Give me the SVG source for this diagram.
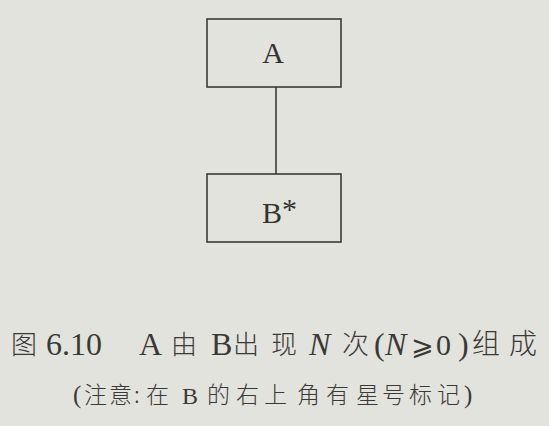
<svg xmlns="http://www.w3.org/2000/svg" width="549" height="426" viewBox="0 0 549 426">
<style>
.box{fill:none;stroke:#3b3a38;stroke-width:1.6}
.lbl{font-family:"Liberation Serif","Noto Sans CJK SC",serif;font-size:30px;fill:#343332}
.cap{font-family:"Liberation Serif","Noto Sans CJK SC",serif;fill:#3a3937}
.cjk{font-family:"Noto Sans CJK SC",sans-serif;font-weight:300}
</style>
<rect width="549" height="426" fill="#e3e3dd"/>
<g id="connectors"><line x1="276" y1="87" x2="276" y2="174" stroke="#3b3a38" stroke-width="1.6"/></g>
<g id="nodeA"><rect class="box" x="207" y="19" width="134" height="68"/><text class="lbl" x="273" y="63" text-anchor="middle">A</text></g>
<g id="nodeB"><rect class="box" x="207" y="174" width="134" height="68"/><text class="lbl" x="262" y="223" font-size="29">B</text><text class="lbl" x="282" y="219" font-size="22">*</text></g>
<g id="caption" class="cap" font-size="32">
<text x="11" y="354" class="cjk" font-size="26">图</text>
<text x="46" y="355">6.10</text>
<text x="139" y="355">A</text>
<text x="171" y="354" class="cjk" font-size="26">由</text>
<text x="211" y="355">B</text>
<text x="233" y="354" class="cjk" font-size="26">出</text>
<text x="271" y="354" class="cjk" font-size="26">现</text>
<text x="309" y="355" font-style="italic">N</text>
<text x="342" y="354" class="cjk" font-size="27">次</text>
<text x="374" y="355">(</text>
<text x="385" y="355" font-style="italic">N</text>
<text x="411" y="355" font-family="DejaVu Sans,sans-serif" font-size="27">⩾</text>
<text x="436" y="355" font-size="30">0</text>
<text x="458" y="355">)</text>
<text x="472" y="354" class="cjk" font-size="28">组</text>
<text x="509" y="354" class="cjk" font-size="28">成</text>
</g>
<g id="note" class="cap" font-size="23">
<text x="73" y="403" font-size="25">(</text>
<text x="84" y="403" class="cjk">注</text>
<text x="109" y="403" class="cjk">意</text>
<text x="134" y="403" class="cjk">:</text>
<text x="146" y="403" class="cjk">在</text>
<text x="182" y="404" font-size="24">B</text>
<text x="207" y="403" class="cjk">的</text>
<text x="236" y="403" class="cjk">右</text>
<text x="264" y="403" class="cjk">上</text>
<text x="297" y="403" class="cjk">角</text>
<text x="326" y="403" class="cjk">有</text>
<text x="356" y="403" class="cjk">星</text>
<text x="382" y="403" class="cjk">号</text>
<text x="409" y="403" class="cjk">标</text>
<text x="437" y="403" class="cjk">记</text>
<text x="464" y="403" font-size="25">)</text>
</g>
</svg>
